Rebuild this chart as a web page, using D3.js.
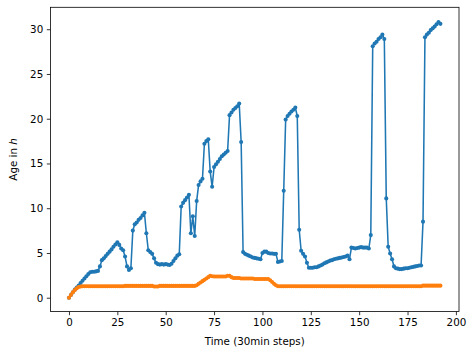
<!DOCTYPE html>
<html><head><meta charset="utf-8">
<script src="https://cdn.jsdelivr.net/npm/d3@7"></script>
<style>body{margin:0;background:#fff}svg{display:block}</style>
</head><body>
<script>
const steps = d3.range(0, 193);
const ageBlue = [
0,0.3,0.6,0.9,1.15,1.35,1.65,1.9,2.15,2.4,
2.65,2.85,2.9,2.9,2.95,3.0,3.5,4.2,4.4,4.65,
4.9,5.15,5.4,5.7,5.95,6.2,5.9,5.5,5.3,4.6,
3.5,3.1,3.3,7.5,8.2,8.4,8.7,8.9,9.2,9.5,
7.2,5.3,5.1,4.9,4.4,3.9,3.75,3.7,3.75,3.7,
3.75,3.7,3.65,3.8,4.1,4.4,4.7,4.85,10.2,10.6,
10.9,11.2,11.5,7.2,9.1,6.9,10.8,12.6,13.0,13.3,
17.2,17.5,17.7,14.1,12.4,14.6,14.9,15.2,15.5,15.8,
16.0,16.2,16.4,20.4,20.7,21.0,21.2,21.4,21.7,17.4,
5.1,4.9,4.8,4.7,4.6,4.5,4.45,4.4,4.35,4.3,
5.0,5.15,5.15,5.0,4.95,4.95,4.9,4.9,4.0,4.05,
4.1,11.95,19.9,20.3,20.55,20.8,21.0,21.25,20.3,7.6,
5.25,4.9,4.6,3.9,3.35,3.35,3.35,3.4,3.4,3.5,
3.6,3.7,3.85,3.95,4.05,4.15,4.2,4.3,4.35,4.4,
4.45,4.5,4.55,4.6,4.7,4.3,5.6,5.55,5.5,5.55,
5.6,5.65,5.6,5.6,5.6,5.5,7.0,28.1,28.4,28.6,
28.9,29.1,29.4,28.9,11.1,5.7,4.95,4.3,3.5,3.3,
3.25,3.2,3.2,3.25,3.3,3.3,3.35,3.4,3.45,3.5,
3.55,3.6,3.6,8.5,29.1,29.4,29.6,29.9,30.1,30.3,
30.55,30.8,30.6
];
const ageOrange = [
0,0.3,0.6,0.85,1.05,1.2,1.25,1.28,1.28,1.28,
1.28,1.28,1.28,1.28,1.28,1.28,1.28,1.28,1.28,1.28,
1.28,1.28,1.28,1.28,1.28,1.28,1.28,1.28,1.28,1.32,
1.32,1.32,1.32,1.32,1.32,1.32,1.32,1.32,1.32,1.32,
1.32,1.32,1.32,1.32,1.25,1.25,1.25,1.32,1.32,1.32,
1.32,1.32,1.32,1.32,1.32,1.32,1.32,1.32,1.32,1.32,
1.32,1.32,1.32,1.32,1.32,1.32,1.4,1.55,1.7,1.85,
2.0,2.15,2.3,2.45,2.4,2.38,2.38,2.38,2.38,2.38,
2.38,2.38,2.45,2.45,2.3,2.2,2.2,2.2,2.2,2.15,
2.15,2.15,2.15,2.15,2.15,2.15,2.1,2.1,2.1,2.1,
2.1,2.1,2.1,2.1,1.95,1.75,1.55,1.4,1.28,1.28,
1.28,1.28,1.28,1.28,1.28,1.28,1.28,1.28,1.28,1.28,
1.28,1.28,1.28,1.28,1.28,1.28,1.28,1.28,1.28,1.28,
1.28,1.28,1.28,1.28,1.28,1.28,1.28,1.28,1.28,1.28,
1.28,1.28,1.28,1.28,1.28,1.28,1.28,1.28,1.28,1.28,
1.28,1.28,1.28,1.28,1.28,1.28,1.28,1.28,1.28,1.28,
1.28,1.28,1.28,1.28,1.28,1.28,1.28,1.28,1.28,1.28,
1.28,1.28,1.28,1.28,1.28,1.28,1.28,1.28,1.28,1.28,
1.28,1.28,1.28,1.35,1.35,1.35,1.35,1.35,1.35,1.35,
1.35,1.35,1.35
];
const xTicks = [0,25,50,75,100,125,150,175,200];
const yTicks = [0,5,10,15,20,25,30];
const xLabel = "Time (30min steps)";
const yLabelMain = "Age in ";
const yLabelVar = "h";

const W = 474, H = 355;
const FS = "10.3px";
const svg = d3.select("body").append("svg").attr("width", W).attr("height", H)
  .style("font-family", "'DejaVu Sans', sans-serif");
const pL = 50.4, pR = 459, pT = 7.3, pB = 311.6;
const x = d3.scaleLinear().domain([-9.6, 201.6]).range([pL, pR]);
const y = d3.scaleLinear().domain([-1.55, 32.45]).range([pB, pT]);

svg.append("clipPath").attr("id","c").append("rect")
  .attr("x", pL).attr("y", pT).attr("width", pR-pL).attr("height", pB-pT);
const g = svg.append("g").attr("clip-path","url(#c)");

function series(vals, color) {
  const pts = steps.map((t,i)=>[t, vals[i]]);
  g.append("path").datum(pts)
    .attr("fill","none").attr("stroke",color).attr("stroke-width",1.55)
    .attr("stroke-linejoin","round")
    .attr("d", d3.line().x(d=>x(d[0])).y(d=>y(d[1])));
  g.append("g").selectAll("circle").data(pts).join("circle")
    .attr("cx", d=>x(d[0])).attr("cy", d=>y(d[1])).attr("r", 2.05)
    .attr("fill", color);
}
series(ageBlue, "#1f77b4");
series(ageOrange, "#ff7f0e");

const xAxis = svg.append("g").attr("transform",`translate(0,${pB})`)
  .call(d3.axisBottom(x).tickValues(xTicks).tickSize(3.6).tickPadding(3.6).tickFormat(d3.format("d")));
const yAxis = svg.append("g").attr("transform",`translate(${pL},0)`)
  .call(d3.axisLeft(y).tickValues(yTicks).tickSize(3.6).tickPadding(3.6).tickFormat(d3.format("d")));
[xAxis, yAxis].forEach(a => {
  a.select(".domain").remove();
  a.selectAll(".tick line").attr("stroke","#000").attr("stroke-width",0.8);
  a.selectAll(".tick text").attr("fill","#000").style("font-size",FS)
    .style("font-family","'DejaVu Sans', sans-serif");
});

svg.append("rect").attr("x", pL).attr("y", pT).attr("width", pR-pL).attr("height", pB-pT)
  .attr("fill","none").attr("stroke","#000").attr("stroke-width",0.8);

svg.append("text").attr("x", (pL+pR)/2).attr("y", 345)
  .attr("text-anchor","middle").style("font-size",FS).attr("fill","#000").text(xLabel);

const yl = svg.append("text").attr("transform",`translate(17,${(pT+pB)/2}) rotate(-90)`)
  .attr("text-anchor","middle").style("font-size",FS).attr("fill","#000");
yl.append("tspan").text(yLabelMain);
yl.append("tspan").style("font-style","italic").text(yLabelVar);
</script>
</body></html>
